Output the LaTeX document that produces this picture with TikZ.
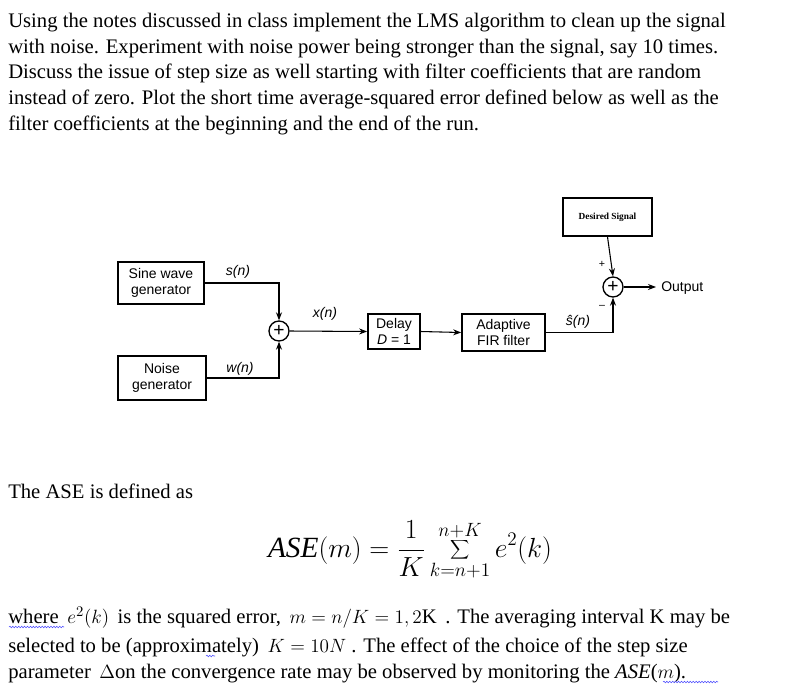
\documentclass[tikz,border=0pt]{standalone}
\usepackage{fontspec}
\setmainfont{Liberation Serif}
\setsansfont{Liberation Sans}
\usetikzlibrary{arrows.meta,decorations.pathmorphing}
\begin{document}
\begin{tikzpicture}[x=0.75pt,y=-0.75pt,
  txt/.style={anchor=base west,inner sep=0pt,font=\fontsize{15.5}{18}\selectfont},
  blk/.style={draw,line width=1.3pt,inner sep=0pt,font=\sffamily\fontsize{10.5}{12}\selectfont,align=center},
  sig/.style={font=\sffamily\itshape\fontsize{10.5}{12}\selectfont,inner sep=0pt},
  sumc/.style={draw,circle,line width=1pt,minimum size=15pt,inner sep=0pt},
  ln/.style={line width=0.8pt},
  arr/.style={ln,-{Stealth[length=6pt,width=4.5pt]}},
  wav/.style={blue!70,line width=0.4pt,decorate,decoration={snake,amplitude=0.6pt,segment length=2.2pt}}]
\useasboundingbox (0,0) rectangle (798,696);
\node[txt] (l1) at (8,27) {Using the notes discussed in class implement the LMS algorithm to clean up the signal};
\node[txt] (l2) at (8,53) {with noise. Experiment with noise power being stronger than the signal, say 10 times.};
\node[txt] (l3) at (8,78) {Discuss the issue of step size as well starting with filter coefficients that are random};
\node[txt] (l4) at (8,104) {instead of zero. Plot the short time average-squared error defined below as well as the};
\node[txt] (l5) at (8,130) {filter coefficients at the beginning and the end of the run.};
% diagram
\node[blk,minimum width=86*0.75pt,minimum height=42*0.75pt] (sine) at (161,283) {Sine wave\\generator};
\node[blk,minimum width=88*0.75pt,minimum height=44*0.75pt] (noise) at (162,378) {Noise\\generator};
\node[sumc] (s1) at (279,331) {\sffamily\Large +};
\node[blk,minimum width=52*0.75pt,minimum height=35*0.75pt] (delay) at (394,331.5) {Delay\\\textit{D} = 1};
\node[blk,minimum width=83*0.75pt,minimum height=37*0.75pt] (fir) at (503.5,332.5) {Adaptive\\FIR filter};
\node[sumc] (s2) at (613,287) {\sffamily\Large +};
\node[draw,line width=1.2pt,minimum width=89*0.75pt,minimum height=38*0.75pt,font=\bfseries\fontsize{7}{8}\selectfont] (des) at (607.5,217) {Desired Signal};
\node[sig] (sn) at (238,272) {s(n)};
\node[sig] (wn) at (240,369) {w(n)};
\node[sig] (xn) at (325,314) {x(n)};
\node[sig] (shn) at (578,322) {\^{s}(n)};
\node[font=\sffamily\fontsize{8}{9}\selectfont] (pl) at (602,264) {+};
\node[font=\sffamily\fontsize{8}{9}\selectfont] (mi) at (602,307) {--};
\coordinate (out) at (656,287);
\node[font=\sffamily\fontsize{10.5}{12}\selectfont,anchor=west,inner sep=0pt] (outl) at (661,288) {Output};
\draw[arr] (sine.east) -| (s1.north);
\draw[arr] (noise.east) -| (s1.south);
\draw[arr] (s1.east) -- (delay.west);
\draw[arr] (delay.east) -- (fir.west);
\draw[arr] (fir.east) -| (s2.south);
\draw[arr] (des.south) -- (s2.north);
\draw[arr] (s2.east) -- (out);
% lower text
\node[txt] (ase) at (8,498) {The ASE is defined as};
\node[inner sep=0pt,font=\fontsize{22}{26}\selectfont] (eq) at (410,550)
 {$\displaystyle \mathit{ASE}(m)=\frac{1}{K}\sum\limits_{k=n+1}^{n+K} e^2(k)$};
\node[txt] (m1) at (8,623) {where \,$e^2(k)$\, is the squared error, \,$m=n/K=1,2\mathrm{K}$\, . The averaging interval K may be};
\node[txt] (m2) at (8,652) {selected to be (approximately)\, $K=10N$ . The effect of the choice of the step size};
\node[txt] (m3) at (8,678) {parameter \,$\Delta$on the convergence rate may be observed by monitoring the \textit{ASE}($m$).};
\coordinate (w1a) at (9,627); \coordinate (w1b) at (64,627);
\draw[wav] (w1a) -- (w1b);
\coordinate (w2a) at (206,656); \coordinate (w2b) at (215,656);
\draw[wav] (w2a) -- (w2b);
\coordinate (w3a) at (663,682); \coordinate (w3b) at (718,682);
\draw[wav] (w3a) -- (w3b);
\end{tikzpicture}
\end{document}
